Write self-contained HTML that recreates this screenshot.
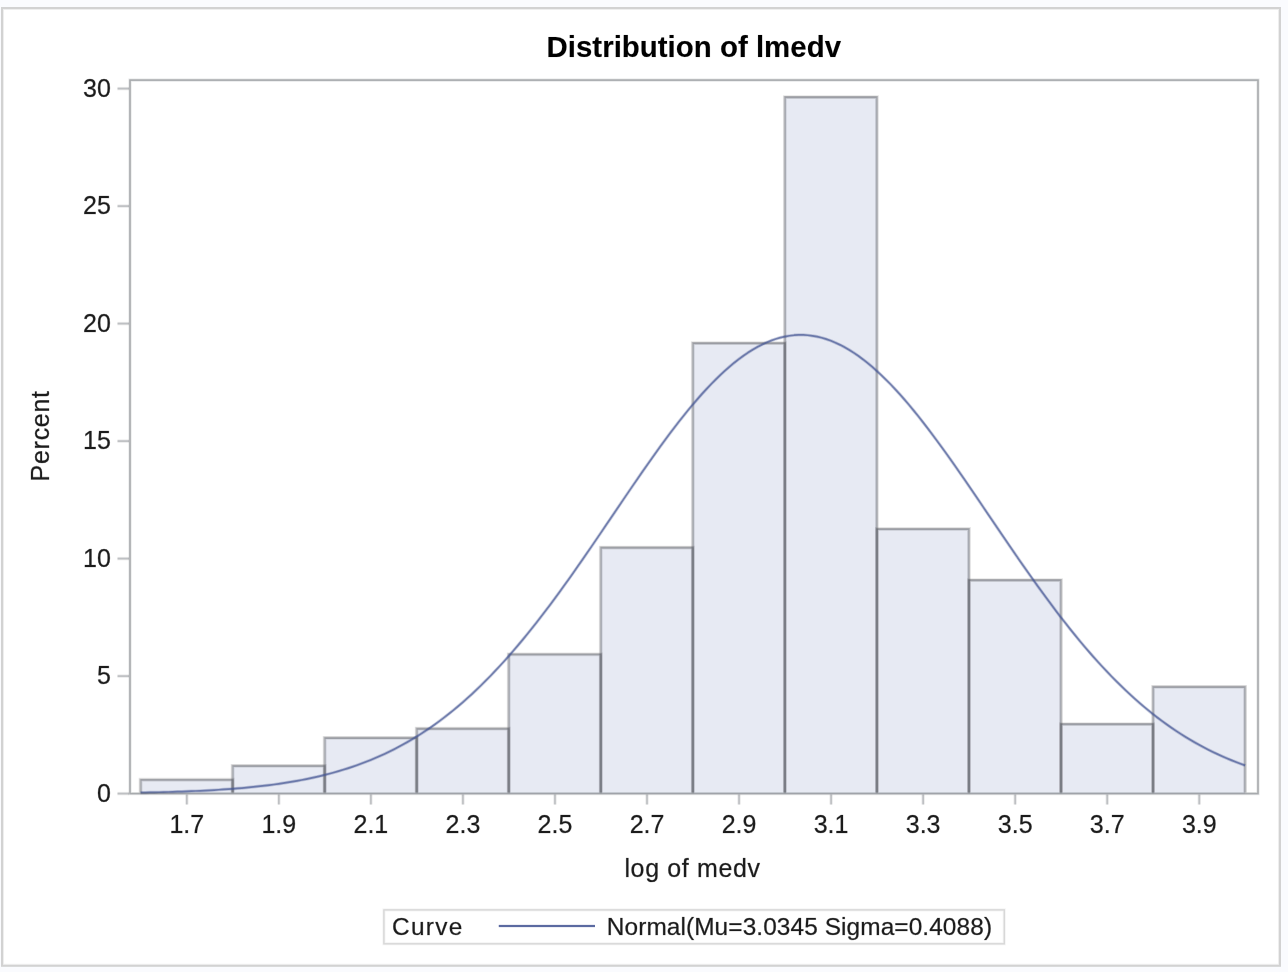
<!DOCTYPE html>
<html lang="en">
<head>
<meta charset="utf-8">
<title>Distribution of lmedv</title>
<style>
html,body{margin:0;padding:0;background:#FAFBFE;}
body{width:1288px;height:972px;overflow:hidden;}
svg{display:block;}
text{font-family:"Liberation Sans",Arial,sans-serif;fill:#1c1c1c;stroke:#1c1c1c;stroke-width:0.6px;stroke-opacity:0.4;stroke-linejoin:round;}
.tv{font-size:25px;}
.lg{font-size:24.4px;}
.lb{font-size:25px;}
.ti{font-size:29.4px;font-weight:bold;fill:#000;stroke:#000;stroke-opacity:0.2;}
</style>
</head>
<body>
<svg width="1288" height="972" viewBox="0 0 1288 972">
<rect x="0" y="0" width="1288" height="972" fill="#FAFBFE"/>
<rect x="1" y="7" width="1280" height="959.8" fill="#D2D2D2"/>
<rect x="3.5" y="9.5" width="1275" height="954.8" fill="#FFFFFF" stroke="#EEEEEE" stroke-width="1"/>
<text class="ti" x="546.50" y="56.9" textLength="294.50" lengthAdjust="spacing">Distribution of lmedv</text>
<g fill="#E7EAF3">
<rect x="140.60" y="779.77" width="92.04" height="13.83"/>
<rect x="232.64" y="765.83" width="92.04" height="27.77"/>
<rect x="324.68" y="737.97" width="92.04" height="55.63"/>
<rect x="416.72" y="728.68" width="92.04" height="64.92"/>
<rect x="508.76" y="654.37" width="92.04" height="139.23"/>
<rect x="600.80" y="547.55" width="92.04" height="246.05"/>
<rect x="692.84" y="343.21" width="92.04" height="450.39"/>
<rect x="784.88" y="97.06" width="92.04" height="696.54"/>
<rect x="876.92" y="528.98" width="92.04" height="264.62"/>
<rect x="968.96" y="580.06" width="92.04" height="213.54"/>
<rect x="1061.00" y="724.04" width="92.04" height="69.56"/>
<rect x="1153.04" y="686.88" width="92.04" height="106.72"/>
</g>
<g fill="none" stroke="#4e5157" stroke-width="3.8" stroke-opacity="0.15">
<path d="M140.60 792.60V779.77H232.64V792.60"/>
<path d="M232.64 792.60V765.83H324.68V792.60"/>
<path d="M324.68 792.60V737.97H416.72V792.60"/>
<path d="M416.72 792.60V728.68H508.76V792.60"/>
<path d="M508.76 792.60V654.37H600.80V792.60"/>
<path d="M600.80 792.60V547.55H692.84V792.60"/>
<path d="M692.84 792.60V343.21H784.88V792.60"/>
<path d="M784.88 792.60V97.06H876.92V792.60"/>
<path d="M876.92 792.60V528.98H968.96V792.60"/>
<path d="M968.96 792.60V580.06H1061.00V792.60"/>
<path d="M1061.00 792.60V724.04H1153.04V792.60"/>
<path d="M1153.04 792.60V686.88H1245.08V792.60"/>
</g>
<g fill="none" stroke="#4e5157" stroke-width="2.2" stroke-opacity="0.31">
<path d="M140.60 792.60V779.77H232.64V792.60"/>
<path d="M232.64 792.60V765.83H324.68V792.60"/>
<path d="M324.68 792.60V737.97H416.72V792.60"/>
<path d="M416.72 792.60V728.68H508.76V792.60"/>
<path d="M508.76 792.60V654.37H600.80V792.60"/>
<path d="M600.80 792.60V547.55H692.84V792.60"/>
<path d="M692.84 792.60V343.21H784.88V792.60"/>
<path d="M784.88 792.60V97.06H876.92V792.60"/>
<path d="M876.92 792.60V528.98H968.96V792.60"/>
<path d="M968.96 792.60V580.06H1061.00V792.60"/>
<path d="M1061.00 792.60V724.04H1153.04V792.60"/>
<path d="M1153.04 792.60V686.88H1245.08V792.60"/>
</g>
<g stroke="#3c3f45" stroke-width="2.2" stroke-opacity="0.1">
<line x1="232.64" x2="232.64" y1="779.77" y2="793.60"/>
<line x1="324.68" x2="324.68" y1="765.83" y2="793.60"/>
<line x1="416.72" x2="416.72" y1="737.97" y2="793.60"/>
<line x1="508.76" x2="508.76" y1="728.68" y2="793.60"/>
<line x1="600.80" x2="600.80" y1="654.37" y2="793.60"/>
<line x1="692.84" x2="692.84" y1="547.55" y2="793.60"/>
<line x1="784.88" x2="784.88" y1="343.21" y2="793.60"/>
<line x1="876.92" x2="876.92" y1="528.98" y2="793.60"/>
<line x1="968.96" x2="968.96" y1="580.06" y2="793.60"/>
<line x1="1061.00" x2="1061.00" y1="724.04" y2="793.60"/>
<line x1="1153.04" x2="1153.04" y1="724.04" y2="793.60"/>
</g>
<g stroke="#3c3f45" stroke-width="1.4" stroke-opacity="0.14">
<line x1="140.60" x2="232.64" y1="779.77" y2="779.77"/>
<line x1="232.64" x2="324.68" y1="765.83" y2="765.83"/>
<line x1="324.68" x2="416.72" y1="737.97" y2="737.97"/>
<line x1="416.72" x2="508.76" y1="728.68" y2="728.68"/>
<line x1="508.76" x2="600.80" y1="654.37" y2="654.37"/>
<line x1="600.80" x2="692.84" y1="547.55" y2="547.55"/>
<line x1="692.84" x2="784.88" y1="343.21" y2="343.21"/>
<line x1="784.88" x2="876.92" y1="97.06" y2="97.06"/>
<line x1="876.92" x2="968.96" y1="528.98" y2="528.98"/>
<line x1="968.96" x2="1061.00" y1="580.06" y2="580.06"/>
<line x1="1061.00" x2="1153.04" y1="724.04" y2="724.04"/>
<line x1="1153.04" x2="1245.08" y1="686.88" y2="686.88"/>
</g>
<polyline fill="none" stroke="#445694" stroke-opacity="0.26" stroke-width="3.2" stroke-linejoin="round" points="140.60,792.63 145.20,792.54 149.80,792.45 154.41,792.35 159.01,792.24 163.61,792.12 168.21,791.99 172.81,791.85 177.42,791.71 182.02,791.55 186.62,791.37 191.22,791.19 195.82,790.99 200.43,790.78 205.03,790.55 209.63,790.31 214.23,790.04 218.83,789.76 223.44,789.46 228.04,789.14 232.64,788.80 237.24,788.43 241.84,788.04 246.45,787.62 251.05,787.18 255.65,786.71 260.25,786.20 264.85,785.67 269.46,785.10 274.06,784.49 278.66,783.85 283.26,783.17 287.86,782.44 292.47,781.68 297.07,780.87 301.67,780.01 306.27,779.10 310.87,778.14 315.48,777.13 320.08,776.06 324.68,774.94 329.28,773.75 333.88,772.51 338.49,771.19 343.09,769.81 347.69,768.36 352.29,766.84 356.89,765.24 361.50,763.56 366.10,761.81 370.70,759.97 375.30,758.04 379.90,756.03 384.51,753.93 389.11,751.74 393.71,749.45 398.31,747.06 402.91,744.58 407.52,741.99 412.12,739.30 416.72,736.50 421.32,733.60 425.92,730.58 430.53,727.45 435.13,724.21 439.73,720.85 444.33,717.38 448.93,713.79 453.54,710.08 458.14,706.25 462.74,702.29 467.34,698.22 471.94,694.02 476.55,689.71 481.15,685.26 485.75,680.70 490.35,676.02 494.95,671.21 499.56,666.28 504.16,661.24 508.76,656.07 513.36,650.80 517.96,645.40 522.57,639.90 527.17,634.28 531.77,628.56 536.37,622.74 540.97,616.82 545.58,610.80 550.18,604.69 554.78,598.49 559.38,592.21 563.98,585.85 568.59,579.42 573.19,572.92 577.79,566.36 582.39,559.75 586.99,553.08 591.60,546.38 596.20,539.64 600.80,532.87 605.40,526.08 610.00,519.28 614.61,512.48 619.21,505.68 623.81,498.89 628.41,492.12 633.01,485.38 637.62,478.68 642.22,472.02 646.82,465.42 651.42,458.89 656.02,452.43 660.63,446.05 665.23,439.76 669.83,433.58 674.43,427.51 679.03,421.56 683.64,415.74 688.24,410.05 692.84,404.52 697.44,399.13 702.04,393.92 706.65,388.88 711.25,384.02 715.85,379.35 720.45,374.87 725.05,370.60 729.66,366.55 734.26,362.71 738.86,359.10 743.46,355.72 748.06,352.58 752.67,349.68 757.27,347.03 761.87,344.63 766.47,342.49 771.07,340.61 775.68,338.99 780.28,337.64 784.88,336.56 789.48,335.76 794.08,335.22 798.69,334.96 803.29,334.97 807.89,335.26 812.49,335.82 817.09,336.66 821.70,337.77 826.30,339.14 830.90,340.78 835.50,342.69 840.10,344.86 844.71,347.28 849.31,349.96 853.91,352.88 858.51,356.05 863.11,359.45 867.72,363.08 872.32,366.94 876.92,371.02 881.52,375.31 886.12,379.80 890.73,384.49 895.33,389.37 899.93,394.43 904.53,399.67 909.13,405.06 913.74,410.61 918.34,416.31 922.94,422.15 927.54,428.11 932.14,434.19 936.75,440.39 941.35,446.68 945.95,453.07 950.55,459.54 955.15,466.08 959.76,472.68 964.36,479.34 968.96,486.05 973.56,492.79 978.16,499.57 982.77,506.36 987.37,513.16 991.97,519.96 996.57,526.76 1001.17,533.55 1005.78,540.31 1010.38,547.05 1014.98,553.75 1019.58,560.41 1024.18,567.02 1028.79,573.57 1033.39,580.07 1037.99,586.49 1042.59,592.84 1047.19,599.11 1051.80,605.30 1056.40,611.40 1061.00,617.41 1065.60,623.33 1070.20,629.14 1074.81,634.85 1079.41,640.45 1084.01,645.95 1088.61,651.33 1093.21,656.60 1097.82,661.75 1102.42,666.78 1107.02,671.70 1111.62,676.49 1116.22,681.16 1120.83,685.71 1125.43,690.14 1130.03,694.45 1134.63,698.63 1139.23,702.69 1143.84,706.63 1148.44,710.45 1153.04,714.15 1157.64,717.73 1162.24,721.19 1166.85,724.54 1171.45,727.77 1176.05,730.89 1180.65,733.89 1185.25,736.79 1189.86,739.57 1194.46,742.25 1199.06,744.83 1203.66,747.31 1208.26,749.68 1212.87,751.96 1217.47,754.14 1222.07,756.24 1226.67,758.24 1231.27,760.15 1235.88,761.98 1240.48,763.73 1245.08,765.40"/>
<polyline fill="none" stroke="#445694" stroke-opacity="0.68" stroke-width="1.7" stroke-linejoin="round" points="140.60,792.63 145.20,792.54 149.80,792.45 154.41,792.35 159.01,792.24 163.61,792.12 168.21,791.99 172.81,791.85 177.42,791.71 182.02,791.55 186.62,791.37 191.22,791.19 195.82,790.99 200.43,790.78 205.03,790.55 209.63,790.31 214.23,790.04 218.83,789.76 223.44,789.46 228.04,789.14 232.64,788.80 237.24,788.43 241.84,788.04 246.45,787.62 251.05,787.18 255.65,786.71 260.25,786.20 264.85,785.67 269.46,785.10 274.06,784.49 278.66,783.85 283.26,783.17 287.86,782.44 292.47,781.68 297.07,780.87 301.67,780.01 306.27,779.10 310.87,778.14 315.48,777.13 320.08,776.06 324.68,774.94 329.28,773.75 333.88,772.51 338.49,771.19 343.09,769.81 347.69,768.36 352.29,766.84 356.89,765.24 361.50,763.56 366.10,761.81 370.70,759.97 375.30,758.04 379.90,756.03 384.51,753.93 389.11,751.74 393.71,749.45 398.31,747.06 402.91,744.58 407.52,741.99 412.12,739.30 416.72,736.50 421.32,733.60 425.92,730.58 430.53,727.45 435.13,724.21 439.73,720.85 444.33,717.38 448.93,713.79 453.54,710.08 458.14,706.25 462.74,702.29 467.34,698.22 471.94,694.02 476.55,689.71 481.15,685.26 485.75,680.70 490.35,676.02 494.95,671.21 499.56,666.28 504.16,661.24 508.76,656.07 513.36,650.80 517.96,645.40 522.57,639.90 527.17,634.28 531.77,628.56 536.37,622.74 540.97,616.82 545.58,610.80 550.18,604.69 554.78,598.49 559.38,592.21 563.98,585.85 568.59,579.42 573.19,572.92 577.79,566.36 582.39,559.75 586.99,553.08 591.60,546.38 596.20,539.64 600.80,532.87 605.40,526.08 610.00,519.28 614.61,512.48 619.21,505.68 623.81,498.89 628.41,492.12 633.01,485.38 637.62,478.68 642.22,472.02 646.82,465.42 651.42,458.89 656.02,452.43 660.63,446.05 665.23,439.76 669.83,433.58 674.43,427.51 679.03,421.56 683.64,415.74 688.24,410.05 692.84,404.52 697.44,399.13 702.04,393.92 706.65,388.88 711.25,384.02 715.85,379.35 720.45,374.87 725.05,370.60 729.66,366.55 734.26,362.71 738.86,359.10 743.46,355.72 748.06,352.58 752.67,349.68 757.27,347.03 761.87,344.63 766.47,342.49 771.07,340.61 775.68,338.99 780.28,337.64 784.88,336.56 789.48,335.76 794.08,335.22 798.69,334.96 803.29,334.97 807.89,335.26 812.49,335.82 817.09,336.66 821.70,337.77 826.30,339.14 830.90,340.78 835.50,342.69 840.10,344.86 844.71,347.28 849.31,349.96 853.91,352.88 858.51,356.05 863.11,359.45 867.72,363.08 872.32,366.94 876.92,371.02 881.52,375.31 886.12,379.80 890.73,384.49 895.33,389.37 899.93,394.43 904.53,399.67 909.13,405.06 913.74,410.61 918.34,416.31 922.94,422.15 927.54,428.11 932.14,434.19 936.75,440.39 941.35,446.68 945.95,453.07 950.55,459.54 955.15,466.08 959.76,472.68 964.36,479.34 968.96,486.05 973.56,492.79 978.16,499.57 982.77,506.36 987.37,513.16 991.97,519.96 996.57,526.76 1001.17,533.55 1005.78,540.31 1010.38,547.05 1014.98,553.75 1019.58,560.41 1024.18,567.02 1028.79,573.57 1033.39,580.07 1037.99,586.49 1042.59,592.84 1047.19,599.11 1051.80,605.30 1056.40,611.40 1061.00,617.41 1065.60,623.33 1070.20,629.14 1074.81,634.85 1079.41,640.45 1084.01,645.95 1088.61,651.33 1093.21,656.60 1097.82,661.75 1102.42,666.78 1107.02,671.70 1111.62,676.49 1116.22,681.16 1120.83,685.71 1125.43,690.14 1130.03,694.45 1134.63,698.63 1139.23,702.69 1143.84,706.63 1148.44,710.45 1153.04,714.15 1157.64,717.73 1162.24,721.19 1166.85,724.54 1171.45,727.77 1176.05,730.89 1180.65,733.89 1185.25,736.79 1189.86,739.57 1194.46,742.25 1199.06,744.83 1203.66,747.31 1208.26,749.68 1212.87,751.96 1217.47,754.14 1222.07,756.24 1226.67,758.24 1231.27,760.15 1235.88,761.98 1240.48,763.73 1245.08,765.40"/>
<rect x="130.00" y="80.10" width="1128.00" height="713.50" fill="none" stroke="#50555b" stroke-opacity="0.14" stroke-width="3.2"/>
<rect x="130.00" y="80.10" width="1128.00" height="713.50" fill="none" stroke="#50555b" stroke-opacity="0.42" stroke-width="1.6"/>
<g stroke="#5a6068" stroke-opacity="0.13" stroke-width="3.4">
<line x1="117.5" x2="129.0" y1="793.60" y2="793.60"/>
<line x1="117.5" x2="129.0" y1="676.10" y2="676.10"/>
<line x1="117.5" x2="129.0" y1="558.60" y2="558.60"/>
<line x1="117.5" x2="129.0" y1="441.10" y2="441.10"/>
<line x1="117.5" x2="129.0" y1="323.60" y2="323.60"/>
<line x1="117.5" x2="129.0" y1="206.10" y2="206.10"/>
<line x1="117.5" x2="129.0" y1="88.60" y2="88.60"/>
<line x1="186.82" x2="186.82" y1="794.6" y2="804.5"/>
<line x1="278.86" x2="278.86" y1="794.6" y2="804.5"/>
<line x1="370.90" x2="370.90" y1="794.6" y2="804.5"/>
<line x1="462.94" x2="462.94" y1="794.6" y2="804.5"/>
<line x1="554.98" x2="554.98" y1="794.6" y2="804.5"/>
<line x1="647.02" x2="647.02" y1="794.6" y2="804.5"/>
<line x1="739.06" x2="739.06" y1="794.6" y2="804.5"/>
<line x1="831.10" x2="831.10" y1="794.6" y2="804.5"/>
<line x1="923.14" x2="923.14" y1="794.6" y2="804.5"/>
<line x1="1015.18" x2="1015.18" y1="794.6" y2="804.5"/>
<line x1="1107.22" x2="1107.22" y1="794.6" y2="804.5"/>
<line x1="1199.26" x2="1199.26" y1="794.6" y2="804.5"/>
</g>
<g stroke="#5a6068" stroke-opacity="0.3" stroke-width="1.7">
<line x1="117.5" x2="129.0" y1="793.60" y2="793.60"/>
<line x1="117.5" x2="129.0" y1="676.10" y2="676.10"/>
<line x1="117.5" x2="129.0" y1="558.60" y2="558.60"/>
<line x1="117.5" x2="129.0" y1="441.10" y2="441.10"/>
<line x1="117.5" x2="129.0" y1="323.60" y2="323.60"/>
<line x1="117.5" x2="129.0" y1="206.10" y2="206.10"/>
<line x1="117.5" x2="129.0" y1="88.60" y2="88.60"/>
<line x1="186.82" x2="186.82" y1="794.6" y2="804.5"/>
<line x1="278.86" x2="278.86" y1="794.6" y2="804.5"/>
<line x1="370.90" x2="370.90" y1="794.6" y2="804.5"/>
<line x1="462.94" x2="462.94" y1="794.6" y2="804.5"/>
<line x1="554.98" x2="554.98" y1="794.6" y2="804.5"/>
<line x1="647.02" x2="647.02" y1="794.6" y2="804.5"/>
<line x1="739.06" x2="739.06" y1="794.6" y2="804.5"/>
<line x1="831.10" x2="831.10" y1="794.6" y2="804.5"/>
<line x1="923.14" x2="923.14" y1="794.6" y2="804.5"/>
<line x1="1015.18" x2="1015.18" y1="794.6" y2="804.5"/>
<line x1="1107.22" x2="1107.22" y1="794.6" y2="804.5"/>
<line x1="1199.26" x2="1199.26" y1="794.6" y2="804.5"/>
</g>
<g class="tv" text-anchor="end">
<text x="110.8" y="801.50">0</text>
<text x="110.8" y="684.00">5</text>
<text x="110.8" y="566.50">10</text>
<text x="110.8" y="449.00">15</text>
<text x="110.8" y="331.50">20</text>
<text x="110.8" y="214.00">25</text>
<text x="110.8" y="96.50">30</text>
</g>
<g class="tv" text-anchor="middle">
<text x="186.82" y="833.2">1.7</text>
<text x="278.86" y="833.2">1.9</text>
<text x="370.90" y="833.2">2.1</text>
<text x="462.94" y="833.2">2.3</text>
<text x="554.98" y="833.2">2.5</text>
<text x="647.02" y="833.2">2.7</text>
<text x="739.06" y="833.2">2.9</text>
<text x="831.10" y="833.2">3.1</text>
<text x="923.14" y="833.2">3.3</text>
<text x="1015.18" y="833.2">3.5</text>
<text x="1107.22" y="833.2">3.7</text>
<text x="1199.26" y="833.2">3.9</text>
</g>
<text class="lb" x="624.40" y="876.7" textLength="135.60" lengthAdjust="spacing">log of medv</text>
<text class="lb" transform="rotate(-90)" x="-481.40" y="49" textLength="90.40" lengthAdjust="spacing">Percent</text>
<rect x="383.9" y="909.9" width="620.4" height="33.9" fill="#FFFFFF" stroke="#8c8c8c" stroke-opacity="0.10" stroke-width="3"/>
<rect x="383.9" y="909.9" width="620.4" height="33.9" fill="none" stroke="#8c8c8c" stroke-opacity="0.26" stroke-width="1.4"/>
<text class="lg" x="392.00" y="934.6" textLength="70.40" lengthAdjust="spacing">Curve</text>
<line x1="498.8" x2="595" y1="926" y2="926" stroke="#445694" stroke-opacity="0.2" stroke-width="3.2"/>
<line x1="498.8" x2="595" y1="926" y2="926" stroke="#445694" stroke-opacity="0.85" stroke-width="1.8"/>
<text class="lg" x="606.80" y="934.6" textLength="385.20" lengthAdjust="spacing">Normal(Mu=3.0345 Sigma=0.4088)</text>
</svg>
</body>
</html>
